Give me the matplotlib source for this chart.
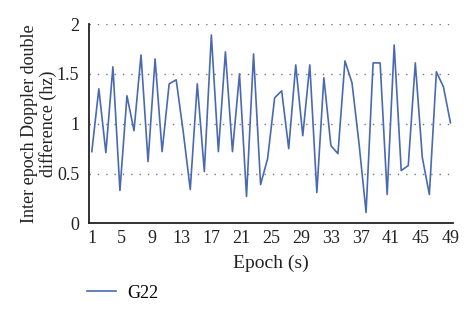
import numpy as np
import matplotlib
matplotlib.use("Agg")
import matplotlib.pyplot as plt

# G22 inter epoch Doppler double difference
g22 = [0.72, 1.35, 0.71, 1.57, 0.33, 1.28, 0.93, 1.69, 0.62, 1.65,
       0.72, 1.40, 1.44, 0.92, 0.34, 1.40, 0.52, 1.89, 0.72, 1.72,
       0.72, 1.50, 0.27, 1.70, 0.39, 0.65, 1.26, 1.33, 0.75, 1.59,
       0.88, 1.59, 0.31, 1.46, 0.78, 0.70, 1.63, 1.41, 0.80, 0.11,
       1.61, 1.61, 0.29, 1.79, 0.53, 0.58, 1.61, 0.66, 0.29, 1.52,
       1.37, 1.01]
# samples span epoch 1 .. 49
epochs = np.linspace(1, 49, len(g22))
xticks = list(range(1, 50, 4))
yticks = [0, 0.5, 1, 1.5, 2]

plt.rcParams['font.family'] = ['Liberation Serif', 'DejaVu Serif']

fig = plt.figure(figsize=(4.74, 3.16), dpi=100)
ax = fig.add_axes([0.188, 0.293, 0.768, 0.631])

ax.plot(epochs, g22, color='#4a69b3', linewidth=1.2, label='G22')

ax.set_xlim(0.64, 49.36)
ax.set_ylim(0, 2)
ax.set_xticks(xticks)
ax.set_xticklabels([str(t) for t in xticks])
ax.set_yticks(yticks)
ax.set_yticklabels(['0', '0.5', '1', '1.5', '2'])
ax.tick_params(axis='both', length=0, labelsize=13, colors='#222222')
ax.tick_params(axis='x', pad=5)
ax.tick_params(axis='y', pad=7)

for v in yticks[1:]:
    ax.axhline(v, color='#777777', linestyle=(0, (1, 5)), linewidth=1.0, zorder=0)

for side in ('top', 'right'):
    ax.spines[side].set_visible(False)
for side in ('left', 'bottom'):
    ax.spines[side].set_color('#222222')
    ax.spines[side].set_linewidth(1.3)

ax.set_xlabel('Epoch (s)', fontsize=14, color='#222222', labelpad=5)
ax.set_ylabel('Inter epoch Doppler double\ndifference (hz)', fontsize=13,
              color='#222222', linespacing=1.05)
ax.yaxis.set_label_coords(-0.088, 0.5)

fig.legend(loc='center left', bbox_to_anchor=(0.15, 0.072), frameon=False,
           fontsize=13, handlelength=1.6, handletextpad=0.6)

fig.savefig('out.png', dpi=100)
